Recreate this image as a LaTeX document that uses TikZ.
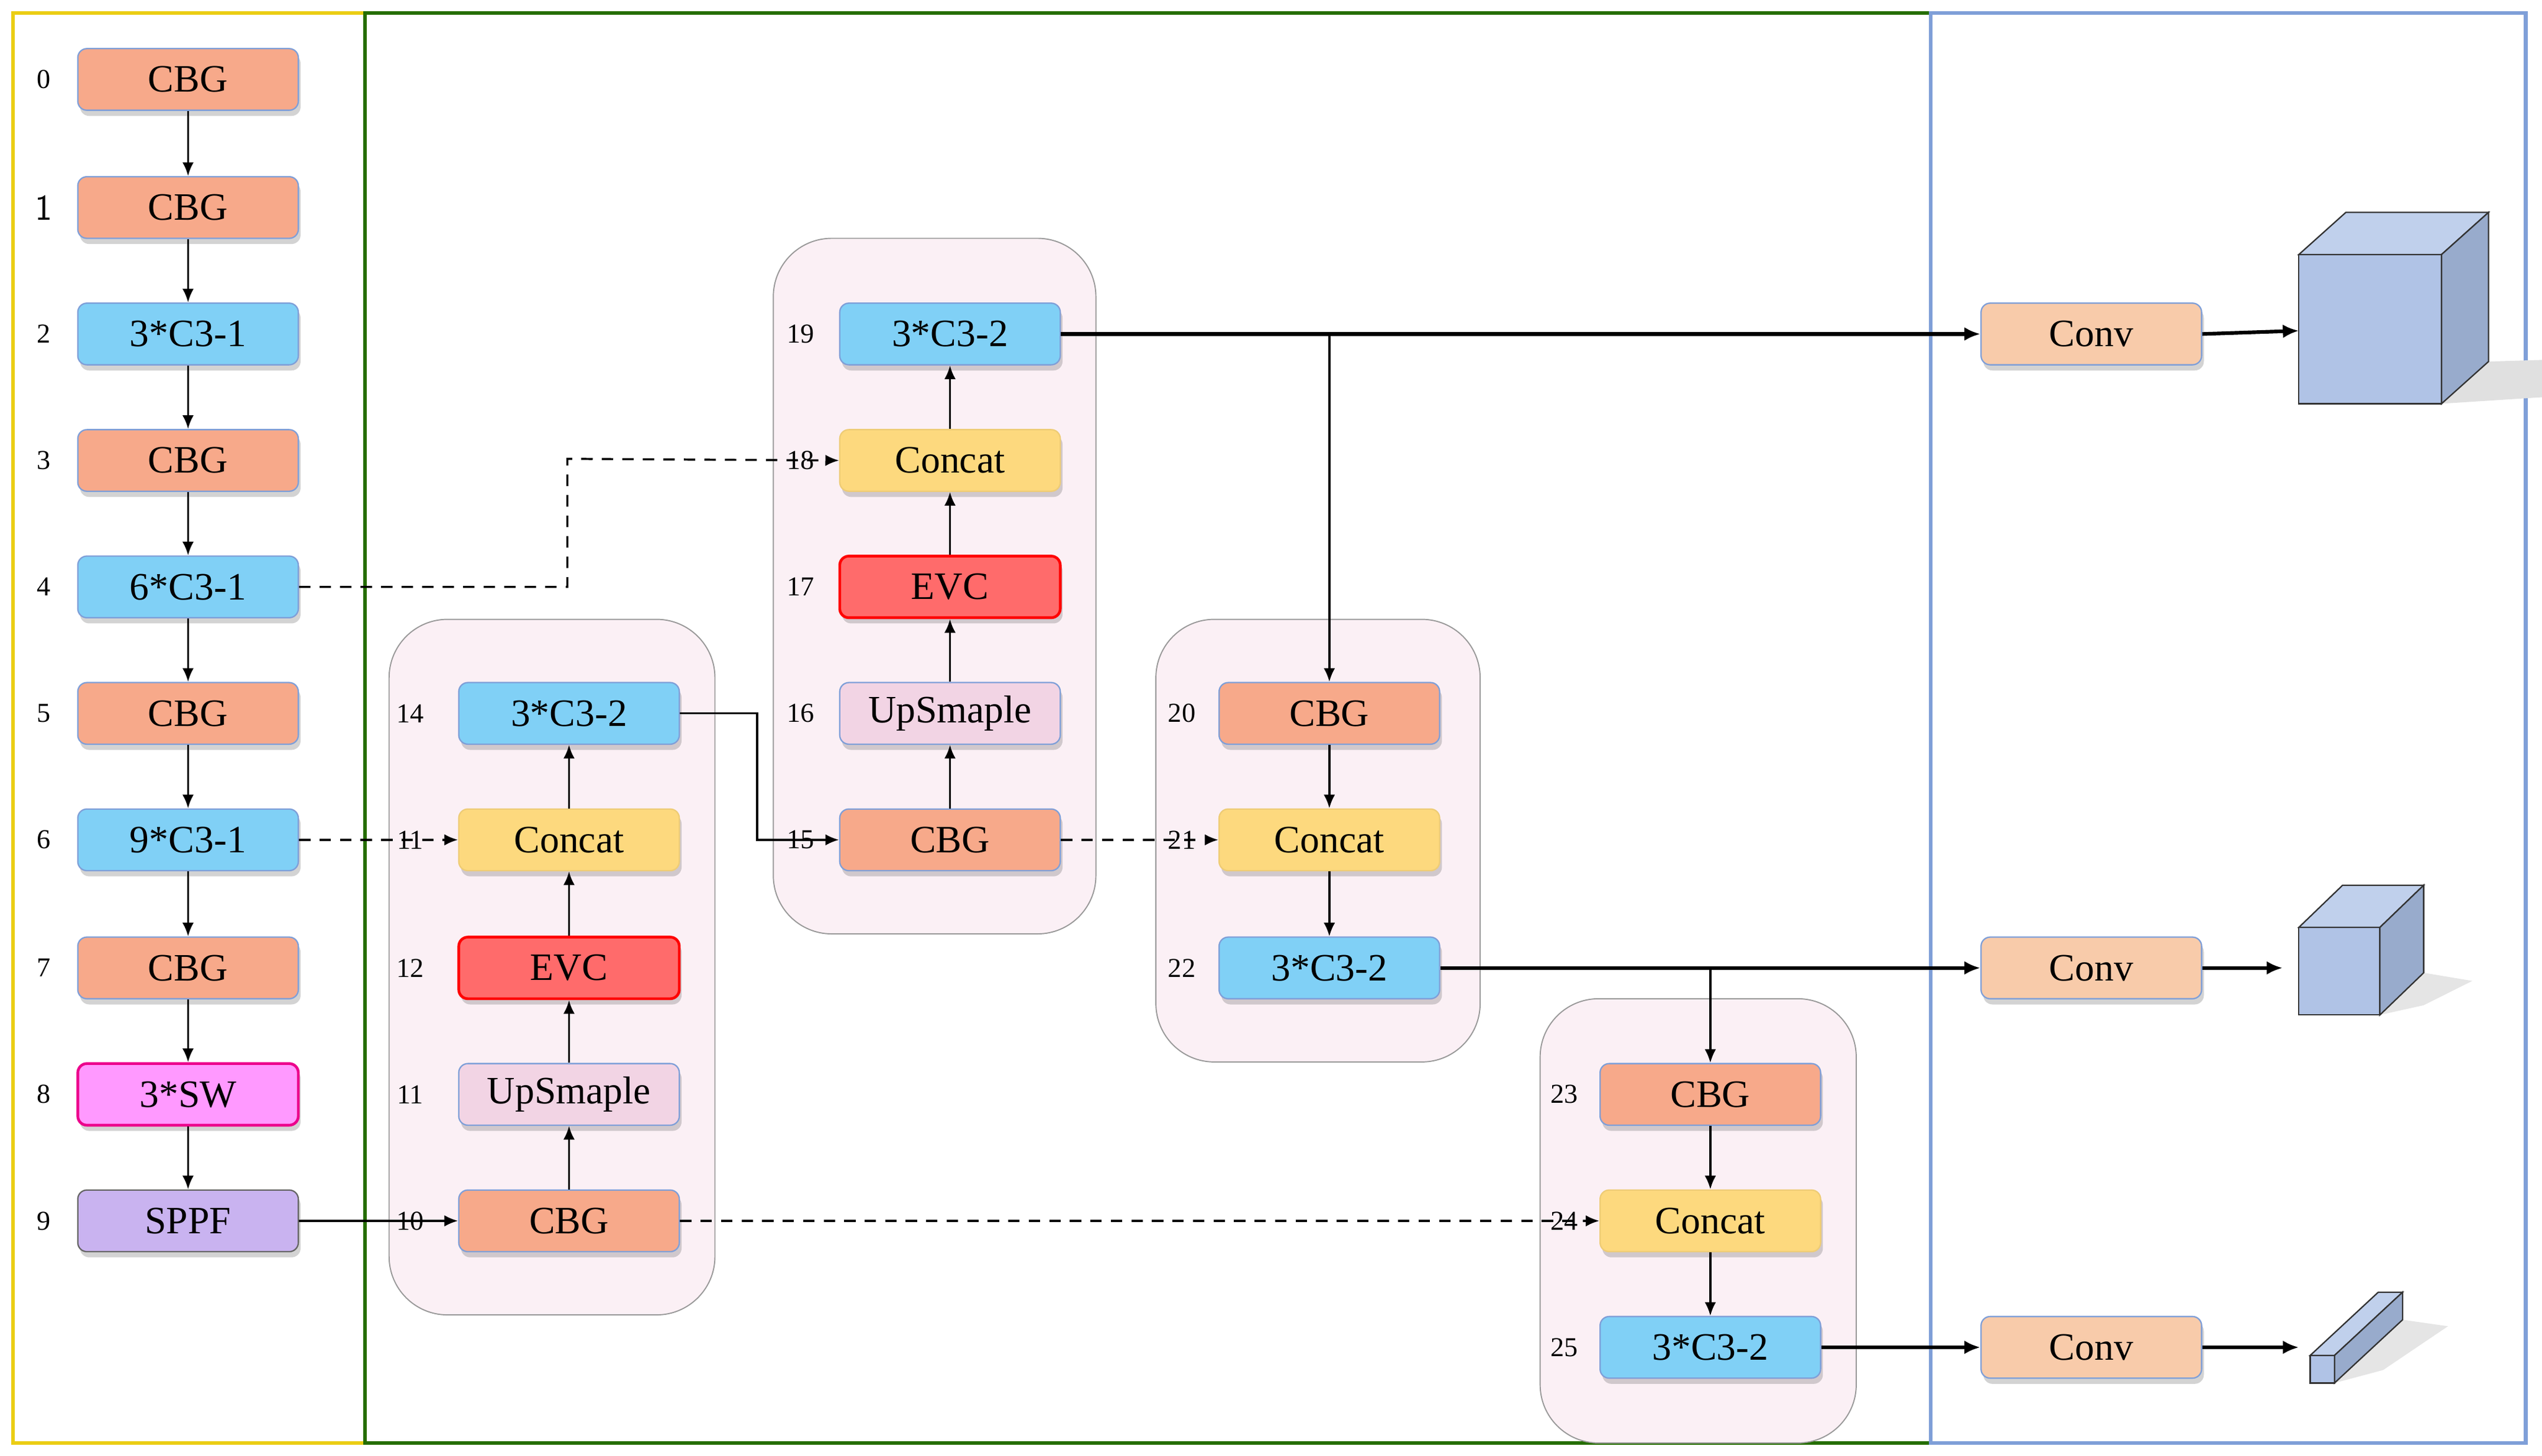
\documentclass[tikz,border=0pt]{standalone}
\usepackage{fontspec}
\setmainfont{Liberation Serif}
\usetikzlibrary{shadows,arrows.meta}
\definecolor{cbg}{HTML}{F7A98A}
\definecolor{cthree}{HTML}{80D0F6}
\definecolor{concat}{HTML}{FDD97E}
\definecolor{evc}{HTML}{FF6B6B}
\definecolor{ups}{HTML}{F2D4E4}
\definecolor{sw}{HTML}{FF99FF}
\definecolor{sppf}{HTML}{C9B3F0}
\definecolor{conv}{HTML}{F8CBAA}
\definecolor{panel}{HTML}{FBF0F5}
\definecolor{bord}{HTML}{7F9FD8}
\definecolor{cubef}{HTML}{B0C3E6}
\definecolor{cubet}{HTML}{C0D0EC}
\definecolor{cubes}{HTML}{98ABCC}
\tikzset{
 box/.style={draw=bord,line width=0.6pt,rounded corners=4pt,minimum width=3.4cm,minimum height=0.95cm,
   font=\fontsize{17}{20}\selectfont,drop shadow={opacity=0.35,shadow xshift=1pt,shadow yshift=-2.5pt},inner sep=0pt},
 CBG/.style={box,fill=cbg},
 C3/.style={box,fill=cthree},
 CC/.style={box,fill=concat,draw=concat!80!black!30!concat},
 EV/.style={box,fill=evc,draw=red,line width=1.2pt},
 UP/.style={box,fill=ups},
 SW/.style={box,fill=sw,draw=magenta,line width=1.2pt},
 SP/.style={box,fill=sppf,draw=black!60},
 CV/.style={box,fill=conv},
 lab/.style={font=\fontsize{12}{14}\selectfont},
 pan/.style={draw=black!40,fill=panel,rounded corners=0.9cm,line width=0.5pt},
 arr/.style={-{Latex[length=6pt,width=5pt]},line width=0.9pt},
 tarr/.style={-{Latex[length=7pt,width=6pt]},line width=1.6pt},
 darr/.style={arr,dash pattern=on 5pt off 4pt},
 cube/.style={draw=black!80,line width=0.6pt}
}
\begin{document}
\begin{tikzpicture}[x=0.025cm,y=-0.025cm]
\useasboundingbox (0,0) rectangle (1568,898);
% frames
\draw[draw=black!10!yellow!80!orange,line width=1.6pt] (8,8) rectangle (225,890);
\draw[draw=green!40!black!70!olive,line width=1.6pt] (225,8) rectangle (1191,890);
\draw[draw=bord,line width=1.6pt] (1191,8) rectangle (1558,890);
% panels
\draw[pan] (240,382) rectangle (441,811);
\draw[pan] (477,147) rectangle (676,576);
\draw[pan] (713,382) rectangle (913,655);
\draw[pan] (950,616) rectangle (1145,890);
% left column
\node[CBG] (n0) at (116,49) {CBG};
\node[CBG] (n1) at (116,128) {CBG};
\node[C3] (n2) at (116,206) {3*C3-1};
\node[CBG] (n3) at (116,284) {CBG};
\node[C3] (n4) at (116,362) {6*C3-1};
\node[CBG] (n5) at (116,440) {CBG};
\node[C3] (n6) at (116,518) {9*C3-1};
\node[CBG] (n7) at (116,597) {CBG};
\node[SW] (n8) at (116,675) {3*SW};
\node[SP] (n9) at (116,753) {SPPF};
\foreach \i/\y in {0/49,2/206,3/284,4/362,5/440,6/518,7/597,8/675,9/753}
  \node[lab] (l\i) at (27,\y) {\i};
\node[font=\fontsize{16}{18}\selectfont\sffamily] (l1) at (27,128) {1};
% group 1
\node[C3] (n14) at (351,440) {3*C3-2};
\node[CC] (n13) at (351,518) {Concat};
\node[EV] (n12) at (351,597) {EVC};
\node[UP] (n11) at (351,675) {UpSmaple};
\node[CBG] (n10) at (351,753) {CBG};
\node[lab] (l14) at (253,440) {14};
\node[lab] (l13) at (253,518) {11};
\node[lab] (l12) at (253,597) {12};
\node[lab] (l11) at (253,675) {11};
\node[lab] (l10) at (253,753) {10};
% group 2
\node[C3] (n19) at (586,206) {3*C3-2};
\node[CC] (n18) at (586,284) {Concat};
\node[EV] (n17) at (586,362) {EVC};
\node[UP] (n16) at (586,440) {UpSmaple};
\node[CBG] (n15) at (586,518) {CBG};
\node[lab] (l19) at (494,206) {19};
\node[lab] (l18) at (494,284) {18};
\node[lab] (l17) at (494,362) {17};
\node[lab] (l16) at (494,440) {16};
\node[lab] (l15) at (494,518) {15};
% group 3
\node[CBG] (n20) at (820,440) {CBG};
\node[CC] (n21) at (820,518) {Concat};
\node[C3] (n22) at (820,597) {3*C3-2};
\node[lab] (l20) at (729,440) {20};
\node[lab] (l21) at (729,518) {21};
\node[lab] (l22) at (729,597) {22};
% group 4
\node[CBG] (n23) at (1055,675) {CBG};
\node[CC] (n24) at (1055,753) {Concat};
\node[C3] (n25) at (1055,831) {3*C3-2};
\node[lab] (l23) at (965,675) {23};
\node[lab] (l24) at (965,753) {24};
\node[lab] (l25) at (965,831) {25};
% conv
\node[CV] (c1) at (1290,206) {Conv};
\node[CV] (c2) at (1290,597) {Conv};
\node[CV] (c3) at (1290,831) {Conv};
% cubes
\fill[black!12] (1506,249) -- (1535,223) -- (1568,222) -- (1568,245) -- cycle;
\draw[cube,fill=cubef] (1418,157) rectangle (1506,249);
\draw[cube,fill=cubet] (1418,157) -- (1447,131) -- (1535,131) -- (1506,157) -- cycle;
\draw[cube,fill=cubes] (1506,157) -- (1535,131) -- (1535,223) -- (1506,249) -- cycle;
\coordinate (k1) at (1418,204);
\fill[black!10] (1468,626) -- (1495,600) -- (1525,605) -- (1495,620) -- cycle;
\draw[cube,fill=cubef] (1418,572) rectangle (1468,626);
\draw[cube,fill=cubet] (1418,572) -- (1445,546) -- (1495,546) -- (1468,572) -- cycle;
\draw[cube,fill=cubes] (1468,572) -- (1495,546) -- (1495,600) -- (1468,626) -- cycle;
\coordinate (k2) at (1408,597);
\fill[black!10] (1440,853) -- (1482,814) -- (1510,818) -- (1470,845) -- cycle;
\draw[cube,fill=cubef] (1425,836) rectangle (1440,853);
\draw[cube,fill=cubet] (1425,836) -- (1467,797) -- (1482,797) -- (1440,836) -- cycle;
\draw[cube,fill=cubes] (1440,836) -- (1482,797) -- (1482,814) -- (1440,853) -- cycle;
\coordinate (k3) at (1418,831);
% connectors left column
\foreach \a/\b in {0/1,1/2,2/3,3/4,4/5,5/6,6/7,7/8,8/9}
  \draw[arr] (n\a) -- (n\b);
\draw[darr] (n4.east) -- (350,362) -- (350,283) -- (n18.west);
\draw[darr] (n6) -- (n13);
\draw[arr] (n9) -- (n10);
\draw[arr] (n10) -- (n11);
\draw[arr] (n11) -- (n12);
\draw[arr] (n12) -- (n13);
\draw[arr] (n13) -- (n14);
\draw[arr] (n14.east) -- (467,440) -- (467,518) -- (n15.west);
\draw[arr] (n15) -- (n16);
\draw[arr] (n16) -- (n17);
\draw[arr] (n17) -- (n18);
\draw[arr] (n18) -- (n19);
\draw[darr] (n15) -- (n21);
\draw[tarr] (n19) -- (c1);
\draw[arr] (820,206) -- (n20);
\draw[arr] (n20) -- (n21);
\draw[arr] (n21) -- (n22);
\draw[tarr] (n22) -- (c2);
\draw[arr] (1055,597) -- (n23);
\draw[arr] (n23) -- (n24);
\draw[arr] (n24) -- (n25);
\draw[darr] (n10) -- (n24);
\draw[tarr] (n25) -- (c3);
\draw[tarr] (c1.east) -- (k1);
\draw[tarr] (c2) -- (k2);
\draw[tarr] (c3) -- (k3);
\end{tikzpicture}
\end{document}
